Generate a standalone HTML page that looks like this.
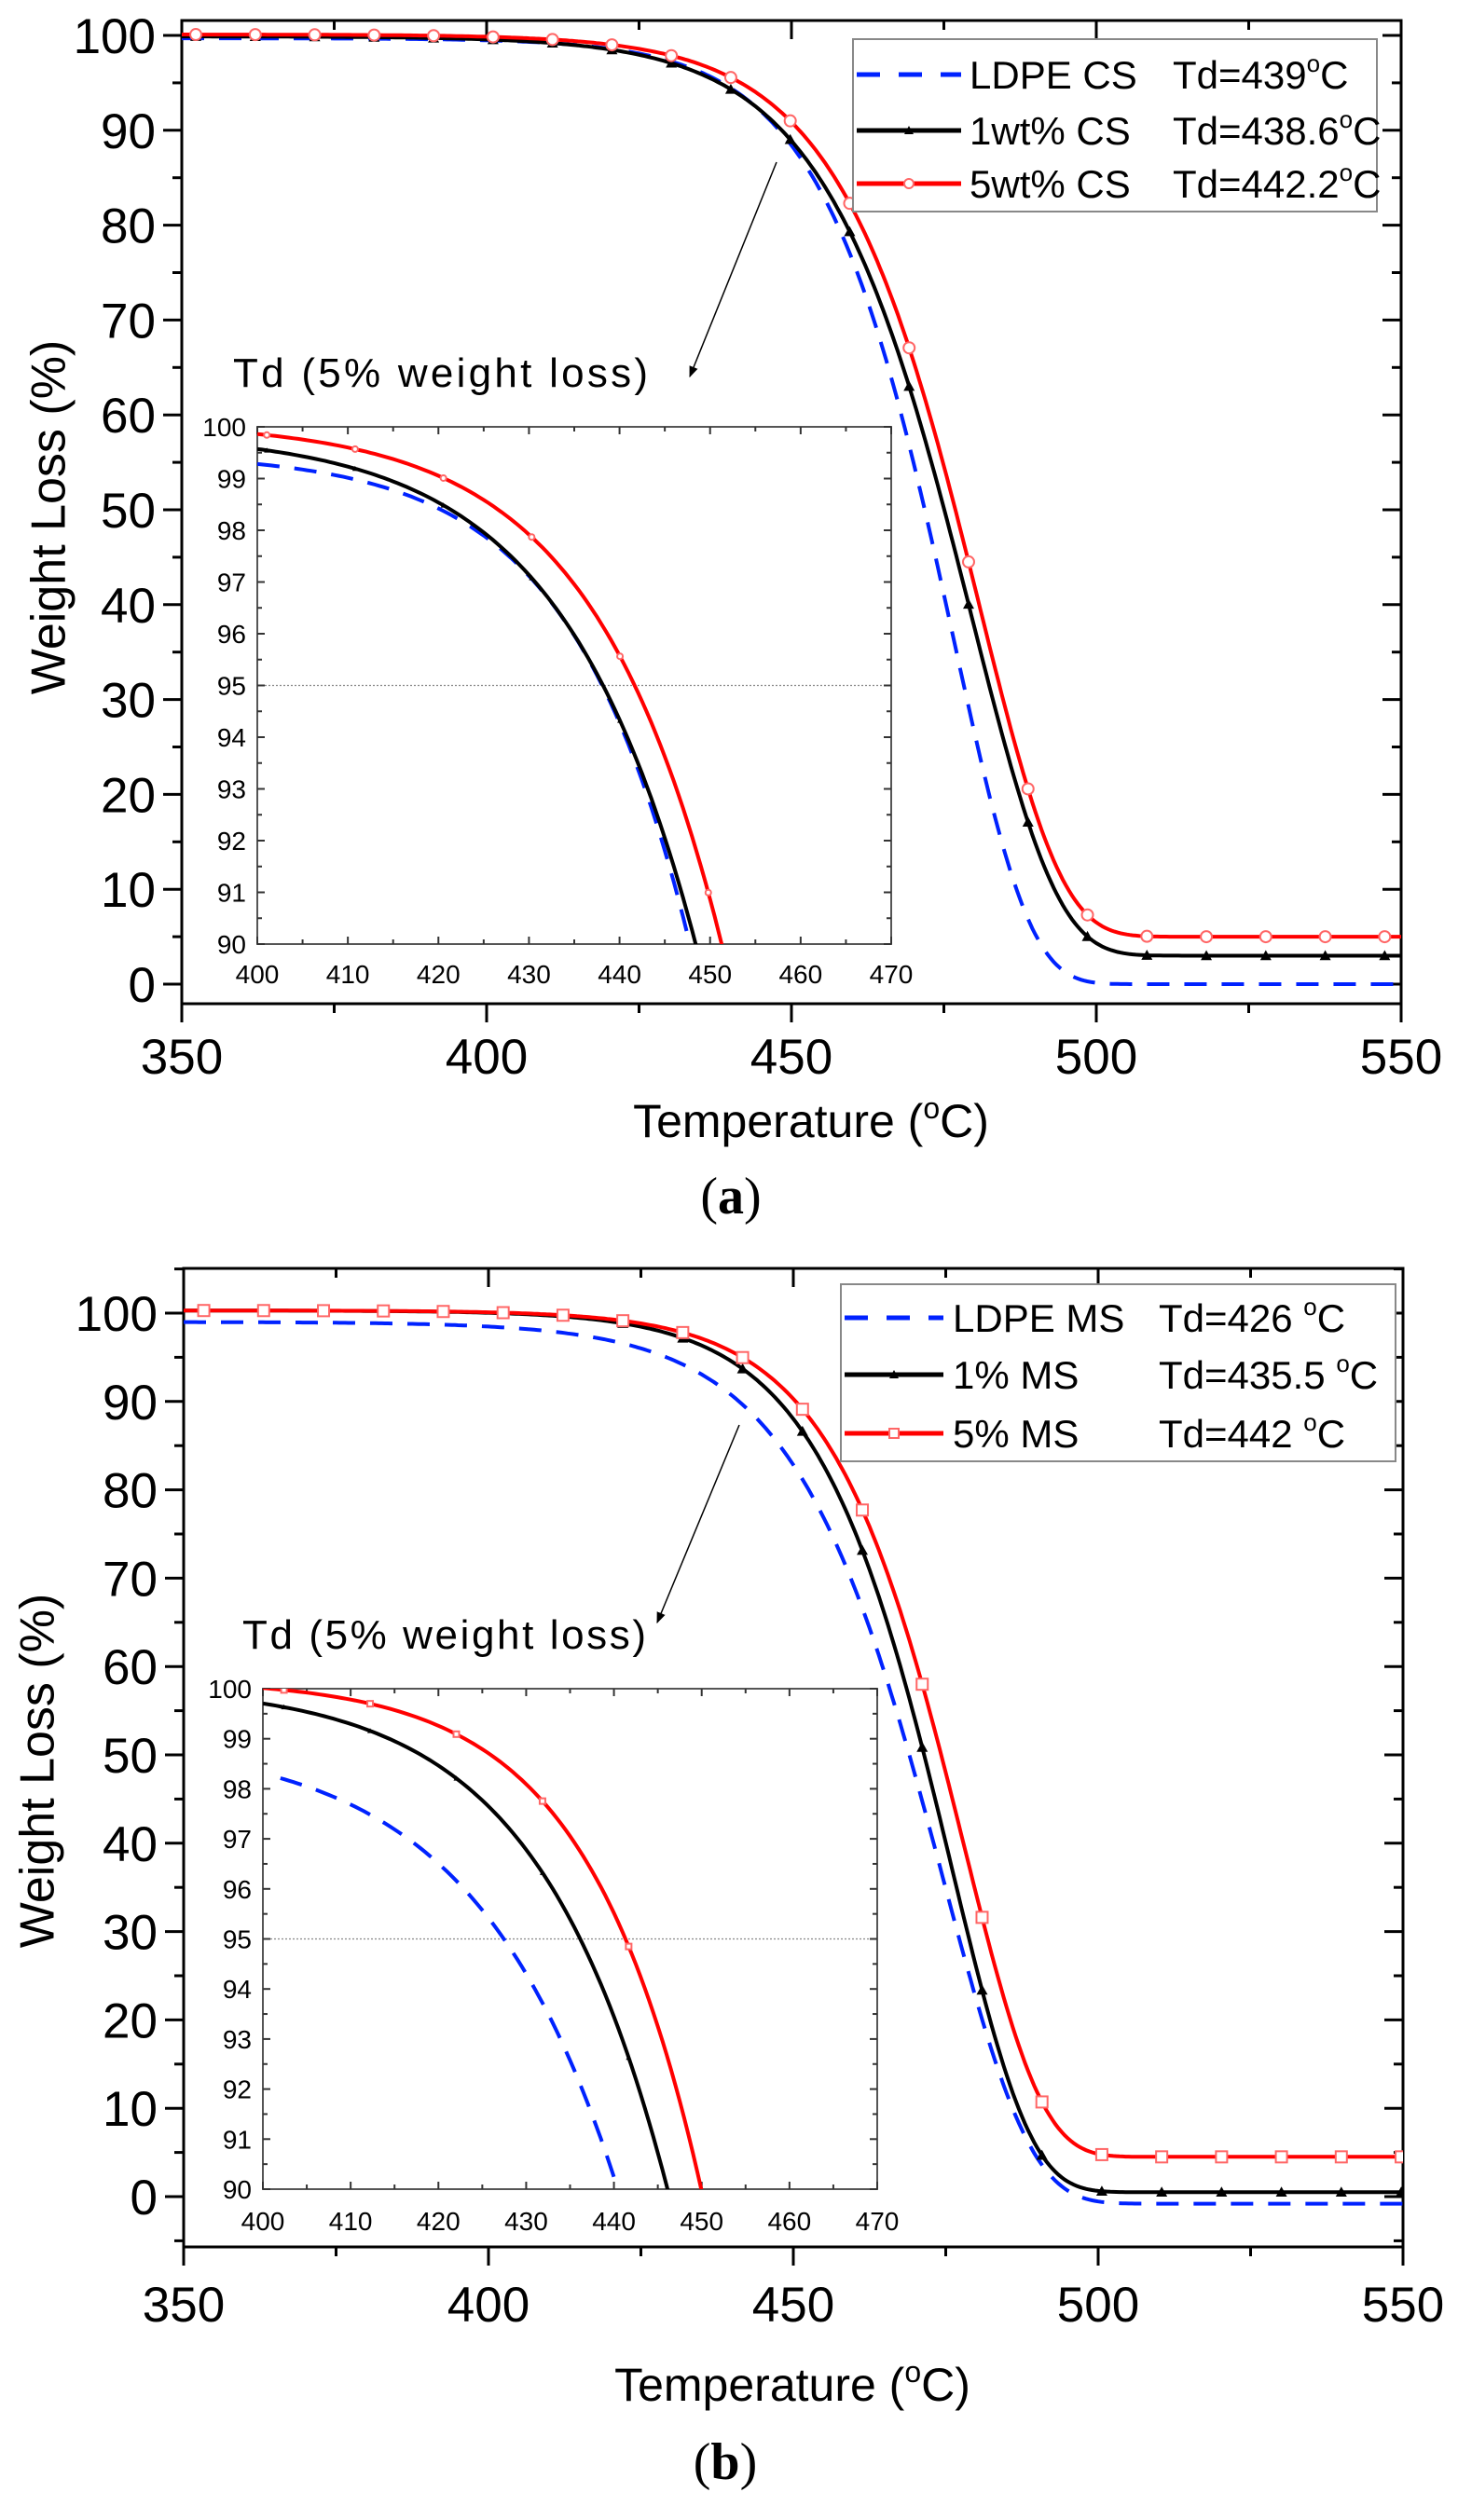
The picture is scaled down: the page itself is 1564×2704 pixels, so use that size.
<!DOCTYPE html>
<html><head><meta charset="utf-8">
<style>
html,body{margin:0;padding:0;background:#fff;width:1564px;height:2704px;overflow:hidden;}
svg{display:block;font-family:"Liberation Sans",sans-serif;}
</style></head>
<body>
<svg id="s" width="1564" height="2704" viewBox="0 0 1564 2704" xmlns="http://www.w3.org/2000/svg">
<rect width="1564" height="2704" fill="#fff"/>
<defs>
<marker id="ah" viewBox="0 0 10 10" refX="9" refY="5" markerWidth="8" markerHeight="8" orient="auto"><path d="M0,1 L10,5 L0,9 z" fill="#000"/></marker>
<clipPath id="ca"><rect x="195" y="22" width="1308" height="1055"/></clipPath>
<clipPath id="cia"><rect x="276" y="458" width="680" height="555"/></clipPath>
<clipPath id="cb"><rect x="197" y="1361" width="1308" height="1050"/></clipPath>
<clipPath id="cib"><rect x="282" y="1812" width="659" height="537"/></clipPath>
</defs>
<g id="g"></g>
<text x="56" y="555" font-size="52" text-anchor="middle" transform="rotate(-90 56 555)" dominant-baseline="middle">Weight Loss (%)</text>
<text x="870" y="1220" font-size="50" text-anchor="middle">Temperature (<tspan font-size="32" dy="-20">o</tspan><tspan dy="20">C)</tspan></text>
<text x="784" y="1302" font-size="56" text-anchor="middle" font-family="Liberation Serif,serif">(<tspan font-weight="bold">a</tspan>)</text>
<text x="250" y="415" font-size="44" textLength="445">Td (5% weight loss)</text>
<line x1="833" y1="174" x2="740" y2="404" stroke="#000" stroke-width="1.5" marker-end="url(#ah)"/>
<text x="44" y="1900" font-size="52" text-anchor="middle" transform="rotate(-90 44 1900)" dominant-baseline="middle">Weight Loss (%)</text>
<text x="850" y="2576" font-size="50" text-anchor="middle">Temperature (<tspan font-size="32" dy="-20">o</tspan><tspan dy="20">C)</tspan></text>
<text x="778" y="2660" font-size="56" text-anchor="middle" font-family="Liberation Serif,serif">(<tspan font-weight="bold">b</tspan>)</text>
<text x="260" y="1769" font-size="44" textLength="433">Td (5% weight loss)</text>
<line x1="793" y1="1529" x2="705" y2="1741" stroke="#000" stroke-width="1.5" marker-end="url(#ah)"/>
</svg>
<script>
var NS="http://www.w3.org/2000/svg",G=document.getElementById('g');
function el(t,a,txt,p){var e=document.createElementNS(NS,t);for(var k in a)e.setAttribute(k,a[k]);if(txt!=null)e.textContent=txt;(p||G).appendChild(e);return e;}
function gomp(top,R,T0,s){return function(T){return R+(top-R)*Math.exp(-Math.exp((T-T0)/s));};}
function curvePath(f,xm,ym,t0,t1){var d='';for(var T=t0;T<=t1+1e-9;T+=0.5){d+=(d?'L':'M')+xm(T).toFixed(1)+','+ym(f(T)).toFixed(1);}return d;}
function chart(c){
  var xm=function(T){return c.x0+(T-350)*(c.x1-c.x0)/200;};
  var ym=function(v){return c.y0v-v*c.k;};
  el('rect',{x:c.x0,y:c.top,width:c.x1-c.x0,height:c.bot-c.top,fill:'none',stroke:'#000','stroke-width':3});
  for(var v=-5;v<=105;v+=5){var y=ym(v);if(y<c.top||y>c.bot)continue;var maj=(v%10===0);
    el('line',{x1:c.x0-(maj?20:10),y1:y,x2:c.x0,y2:y,stroke:'#000','stroke-width':3});
    el('line',{x1:c.x1,y1:y,x2:c.x1-(maj?20:10),y2:y,stroke:'#000','stroke-width':3});
    if(maj&&v>=0&&v<=100)el('text',{x:c.x0-28,y:y+19,'font-size':53,'text-anchor':'end'},String(v));}
  for(var T=350;T<=550;T+=25){var x=xm(T);var maj=(T%50===0);
    el('line',{x1:x,y1:c.bot,x2:x,y2:c.bot+(maj?20:10),stroke:'#000','stroke-width':3});
    el('line',{x1:x,y1:c.top,x2:x,y2:c.top+(maj?20:10),stroke:'#000','stroke-width':3});
    if(maj)el('text',{x:x,y:c.lab,'font-size':53,'text-anchor':'middle'},String(T));}
  var g=el('g',{'clip-path':'url(#'+c.clip+')'});
  c.series.forEach(function(s){
    el('path',{d:curvePath(s.f,xm,ym,350,550),fill:'none',stroke:s.col,'stroke-width':4,'stroke-dasharray':s.dash||'none'},null,g);
    if(s.mk){for(var T=c.m0;T<=551;T+=c.step)mark(g,s,xm(T),ym(s.f(T)),6);}
  });
  var I=c.ins;var ix=function(T){return I.x0+(T-400)*(I.x1-I.x0)/70;};var iy=function(v){return I.y0+(100-v)*(I.y1-I.y0)/10;};
  el('rect',{x:I.x0,y:I.y0,width:I.x1-I.x0,height:I.y1-I.y0,fill:'#fff',stroke:'#555','stroke-width':2});
  el('line',{x1:I.x0,y1:iy(95),x2:I.x1,y2:iy(95),stroke:'#888','stroke-width':1.2,'stroke-dasharray':'2,2'});
  for(var v=90;v<=100;v+=0.5){var y=iy(v);var maj=(Math.abs(v-Math.round(v))<1e-6);
    el('line',{x1:I.x0,y1:y,x2:I.x0+(maj?8:5),y2:y,stroke:'#333','stroke-width':2});
    el('line',{x1:I.x1,y1:y,x2:I.x1-(maj?8:5),y2:y,stroke:'#333','stroke-width':2});
    if(maj)el('text',{x:I.x0-12,y:y+10,'font-size':28,'text-anchor':'end'},String(v));}
  for(var T=400;T<=470;T+=5){var x=ix(T);var maj=(T%10===0);
    el('line',{x1:x,y1:I.y1,x2:x,y2:I.y1-(maj?8:5),stroke:'#333','stroke-width':2});
    el('line',{x1:x,y1:I.y0,x2:x,y2:I.y0+(maj?8:5),stroke:'#333','stroke-width':2});
    if(maj)el('text',{x:x,y:I.lab,'font-size':28,'text-anchor':'middle'},String(T));}
  var gi=el('g',{'clip-path':'url(#'+I.clip+')'});
  c.series.forEach(function(s){
    var fi=s.fi||s.f;
    el('path',{d:curvePath(fi,ix,iy,s.is||400,470),fill:'none',stroke:s.col,'stroke-width':4,'stroke-dasharray':s.dash||'none'},null,gi);
    if(s.mk){for(var T=c.m0;T<=470;T+=c.step)if(T>=400)mark(gi,s,ix(T),iy(fi(T)),3);}
  });
  var L=c.leg;
  el('rect',{x:L.x0,y:L.y0,width:L.x1-L.x0,height:L.y1-L.y0,fill:'#fff',stroke:'#888','stroke-width':2});
  c.series.forEach(function(s,i){var y=L.rows[i];
    el('line',{x1:L.lx0,y1:y,x2:L.lx1,y2:y,stroke:s.col,'stroke-width':5,'stroke-dasharray':s.dash?'25,20':'none'});
    if(s.mk)mark(G,s,(L.lx0+L.lx1)/2,y,5);
    el('text',{x:L.tx,y:y+15,'font-size':42},s.name);
    var t=el('text',{x:L.td,y:y+15,'font-size':42},s.td[0]);
    el('tspan',{'font-size':26,dy:-18},'o',t);el('tspan',{dy:18},'C',t);
  });
}
function mark(p,s,x,y,r){
  if(s.mk==='tri')el('path',{d:'M'+x+','+(y-r)+'L'+(x+r)+','+(y+r*0.8)+'L'+(x-r)+','+(y+r*0.8)+'Z',fill:'#000'},null,p);
  else if(s.mk==='circ')el('circle',{cx:x,cy:y,r:r,fill:'#fff',stroke:'#f66','stroke-width':2},null,p);
  else el('rect',{x:x-r,y:y-r,width:2*r,height:2*r,fill:'#fff',stroke:'#f66','stroke-width':2},null,p);
}
chart({x0:195,x1:1503,top:22,bot:1077,y0v:1056,k:10.18,lab:1152,clip:'ca',m0:352.3,step:9.75,
  ins:{x0:276,x1:956,y0:458,y1:1013,lab:1055,clip:'cia'},
  leg:{x0:915,x1:1477,y0:42,y1:227,rows:[80,140,197],lx0:919,lx1:1031,tx:1040,td:1258},
  series:[
   {name:'LDPE CS',td:['Td=439'],col:'#0022ff',dash:'24,16',f:gomp(99.7,0,476.5,12.5),fi:gomp(99.5,0,476.5,12.5)},
   {name:'1wt%  CS',td:['Td=438.6'],col:'#000',mk:'tri',f:gomp(99.9,3,479.6,14)},
   {name:'5wt%  CS',td:['Td=442.2'],col:'#ff0000',mk:'circ',f:gomp(100.1,5,480.8,13.5)}]});
chart({x0:197,x1:1505,top:1361,bot:2411,y0v:2357,k:9.48,lab:2491,clip:'cb',m0:353.3,step:9.82,
  ins:{x0:282,x1:941,y0:1812,y1:2349,lab:2393,clip:'cib'},
  leg:{x0:902,x1:1497,y0:1378,y1:1568,rows:[1414,1475,1538],lx0:906,lx1:1012,tx:1022,td:1243},
  series:[
   {name:'LDPE MS',td:['Td=426 '],col:'#0022ff',dash:'24,16',is:402,f:gomp(99,-0.8,474.6,14.2),fi:gomp(99,-0.8,477,15.5)},
   {name:'1% MS',td:['Td=435.5 '],col:'#000',mk:'tri',f:gomp(100.3,0.5,476,12.8),fi:gomp(100.1,0.5,477.4,14)},
   {name:'5% MS',td:['Td=442 '],col:'#ff0000',mk:'sq',f:gomp(100.3,4.5,478,12.7),fi:gomp(100.2,4.5,476.8,12.3)}]});
</script>
</body></html>
